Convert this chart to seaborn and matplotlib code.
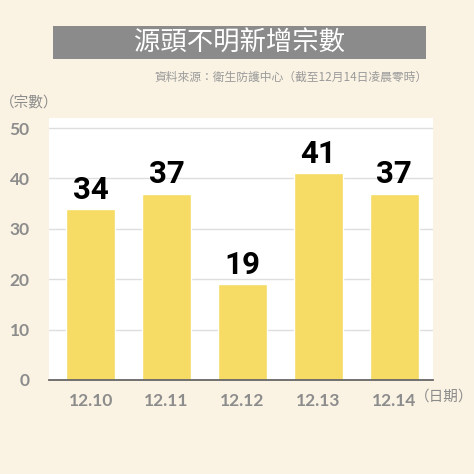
import matplotlib
matplotlib.use("Agg")
from matplotlib import pyplot as plt
from matplotlib.patches import Rectangle
import seaborn as sns
import pandas as pd

# data
DATES = ["12.10", "12.11", "12.12", "12.13", "12.14"]
CASES = [34, 37, 19, 41, 37]

TITLE = "源頭不明新增宗數"
SOURCE = "資料來源：衛生防護中心（截至12月14日凌晨零時）"
Y_UNIT = "（宗數）"
X_UNIT = "（日期）"

BG = "#faf3e3"
BAR = "#f6dc64"
GREY_TEXT = "#8c8c8c"

sns.set_theme(style="white")
plt.rcParams["font.family"] = ["Noto Sans CJK TC", "DejaVu Sans"]

df = pd.DataFrame({"date": DATES, "cases": CASES})

fig = plt.figure(figsize=(4.74, 4.74), dpi=100, facecolor=BG)
ax = fig.add_axes([49 / 474, 94 / 474, 384 / 474, 262 / 474])
ax.set_facecolor("white")

sns.barplot(data=df, x="date", y="cases", color=BAR, saturation=1, width=0.64, ax=ax)

ax.set_ylim(0, 52)
ax.set_xlim(-0.55, 4.51)
ax.set_yticks([0, 10, 20, 30, 40, 50])
ax.yaxis.grid(True, color="#dedede", linewidth=1)
ax.set_axisbelow(True)
ax.set_xlabel("")
ax.set_ylabel("")

for side in ["top", "right", "left"]:
    ax.spines[side].set_visible(False)
ax.spines["bottom"].set_color("#666666")
ax.spines["bottom"].set_linewidth(1.3)

ax.tick_params(axis="both", length=0)
ax.tick_params(axis="x", pad=9)
ax.tick_params(axis="y", pad=14)
for lbl in ax.get_xticklabels() + ax.get_yticklabels():
    lbl.set_family("Lato")
    lbl.set_weight("bold")
    lbl.set_color(GREY_TEXT)
    lbl.set_fontsize(12.5)

ax.bar_label(ax.containers[0], padding=3, fontsize=22.5, color="black",
             family="Roboto", fontweight="bold")

# title banner
fig.patches.append(Rectangle((53 / 474, 1 - 59 / 474), 373 / 474, 33 / 474,
                             transform=fig.transFigure, facecolor="#8b8b8b",
                             edgecolor="none"))
fig.text(0.505, 1 - 43 / 474, TITLE, ha="center", va="center", color="white",
         fontsize=19, fontweight="light")
fig.text(428 / 474, 1 - 77 / 474, SOURCE, ha="right", va="center",
         color="#9a9a9a", fontsize=8.5)
fig.text(0 / 474, 1 - 103 / 474, Y_UNIT, ha="left", va="center",
         color=GREY_TEXT, fontsize=10.5)
fig.text(473 / 474, 1 - 397 / 474, X_UNIT, ha="right", va="center",
         color=GREY_TEXT, fontsize=10.5)

fig.savefig("out.png", dpi=100, facecolor=BG)
